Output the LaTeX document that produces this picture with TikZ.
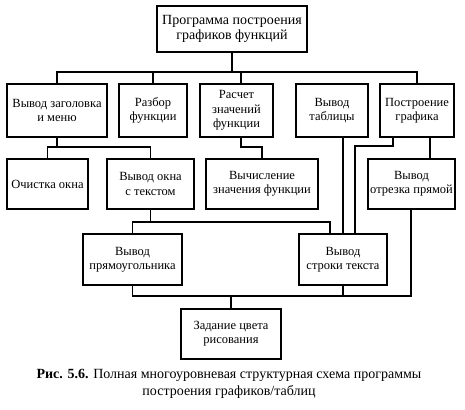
\documentclass[tikz,border=0pt]{standalone}
\usepackage{fontspec}
\setmainfont{Liberation Serif}
\begin{document}
\begin{tikzpicture}[x=1pt,y=-1pt,line width=1.25pt]
  \tikzstyle{every node}=[font=\fontsize{12.5}{14.3}\selectfont]
  \tikzstyle{block}=[draw,rectangle,align=center,inner sep=1pt]
  \tikzstyle{row1}=[block,minimum height=53pt]
  \tikzstyle{row2}=[block,minimum height=50pt]
  \useasboundingbox (0,0) rectangle (465,409);
  \node[block,minimum width=150pt,minimum height=46pt,font=\fontsize{14}{15}\selectfont] (prog) at (232,29) {Программа построения\\графиков функций};
  \node[row1,minimum width=100pt] (zag) at (57,110.5) {Вывод заголовка\\и меню};
  \node[row1,minimum width=68pt] (razbor) at (153,110.5) {Разбор\\функции};
  \node[row1,minimum width=73pt] (raschet) at (236.5,110.5) {Расчет\\значений\\функции};
  \node[row1,minimum width=72pt] (tabl) at (332,110.5) {Вывод\\таблицы};
  \node[row1,minimum width=74pt] (graf) at (417,110.5) {Построение\\графика};
  \node[row2,minimum width=81pt] (ochistka) at (47.5,184) {Очистка окна};
  \node[row2,minimum width=87pt] (okno) at (150.5,184) {Вывод окна\\с текстом};
  \node[row2,minimum width=112pt] (vych) at (262,184) {Вычисление\\значения функции};
  \node[row2,minimum width=87pt] (otrezok) at (411.5,184) {Вывод\\отрезка прямой};
  \node[row2,minimum width=99pt,minimum height=51pt] (pryam) at (132.5,259.5) {Вывод\\прямоугольника};
  \node[row2,minimum width=88pt,minimum height=51pt] (stroki) at (343,259.5) {Вывод\\строки текста};
  \node[row2,minimum width=100pt] (zadanie) at (231,334) {Задание цвета\\рисования};
  \node[align=center,font=\fontsize{14}{17}\selectfont] (caption) at (229,384) {\textbf{Рис. 5.6.} Полная многоуровневая структурная схема программы\\построения графиков/таблиц};
  \draw (prog.south) -- (prog.south |- 0,72);
  \draw (zag.north) |- (graf.north |- 0,72) -- (graf.north);
  \draw (razbor.north) -- (razbor.north |- 0,72);
  \draw (raschet.north -| 241,0) -- (241,72);
  \draw (zag.south) -- (zag.south |- 0,147);
  \draw (ochistka.north) |- (okno.north |- 0,147) -- (okno.north);
  \draw (raschet.south -| 241,0) |- (vych.north |- 0,147) -- (vych.north);
  \draw (graf.south -| 430,0) -- (otrezok.north -| 430,0);
  \draw (graf.south -| 393,0) |- (355,146) -- (stroki.north -| 355,0);
  \draw (tabl.south -| 343,0) -- (stroki.north -| 343,0);
  \draw (okno.south) -- (okno.south |- 0,222);
  \draw (pryam.north) |- (330,222) -- (stroki.north -| 330,0);
  \draw (pryam.south) |- (411,296) -- (otrezok.south -| 411,0);
  \draw (stroki.south) -- (stroki.south |- 0,296);
  \draw (zadanie.north) -- (zadanie.north |- 0,296);
\end{tikzpicture}
\end{document}
